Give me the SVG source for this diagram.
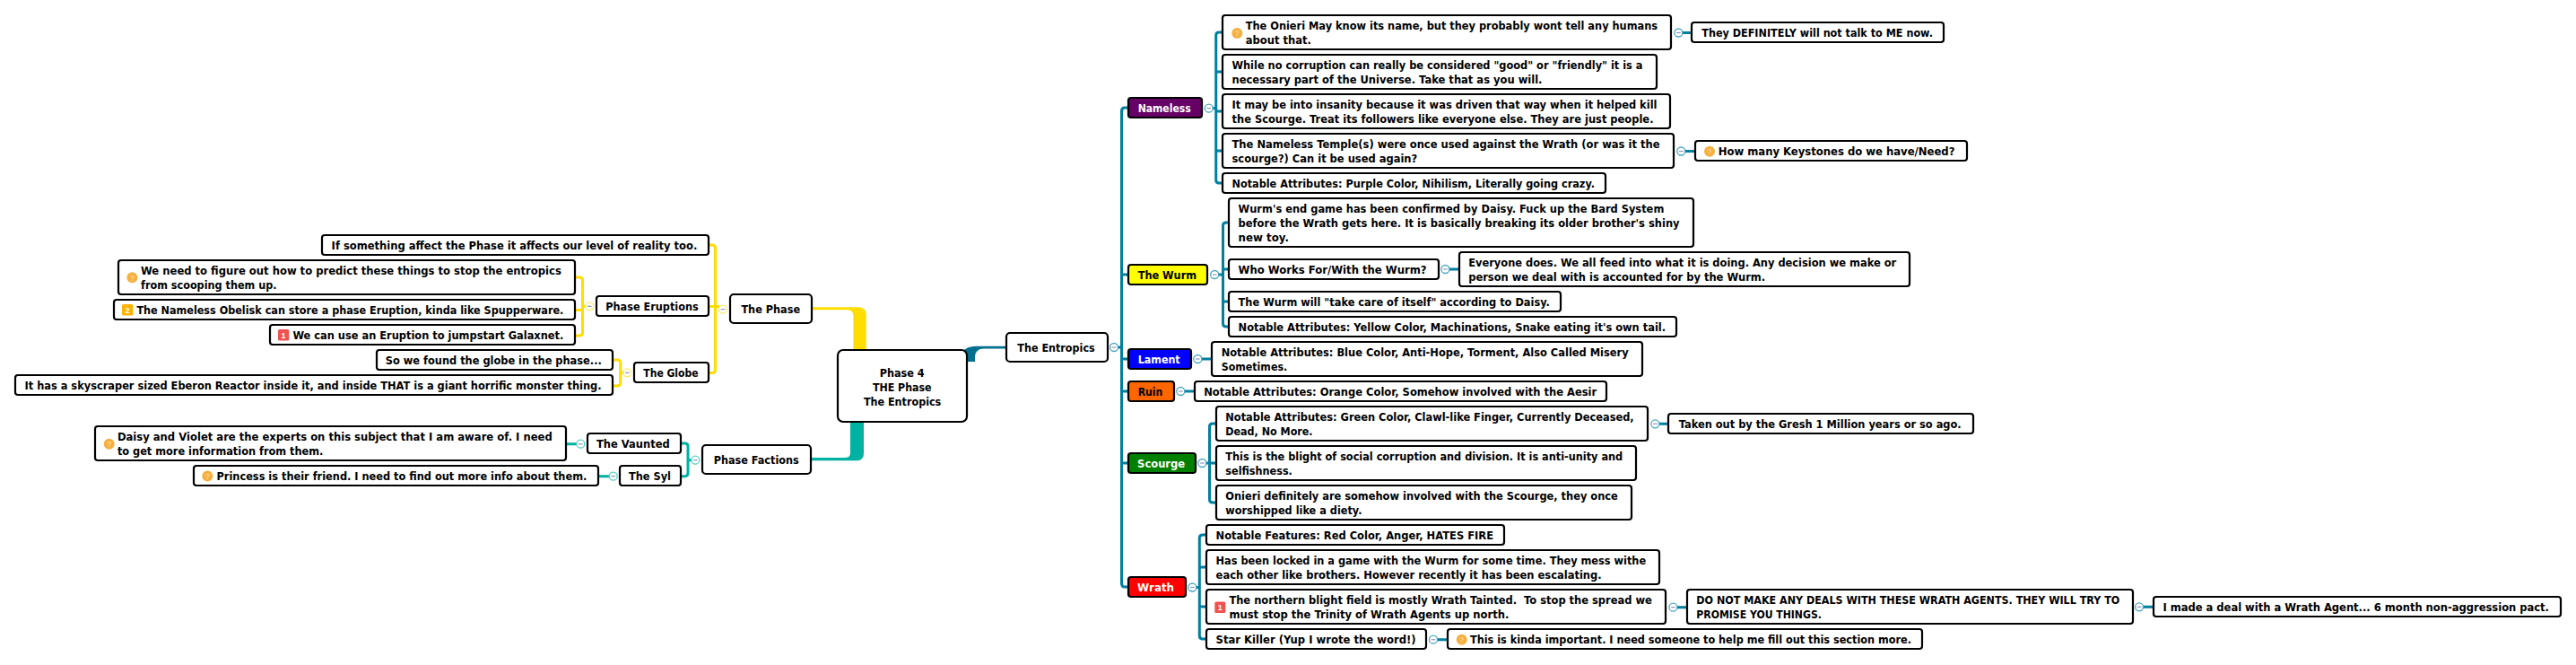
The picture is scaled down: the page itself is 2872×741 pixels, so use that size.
<svg xmlns="http://www.w3.org/2000/svg" width="2872" height="741" viewBox="0 0 2872 741">
<style>
.n rect{fill:#fff;stroke:#000;stroke-width:2.2}
text{font-family:"DejaVu Sans","Noto Sans","Liberation Sans",sans-serif;font-weight:700;font-size:13px;fill:#000;white-space:pre}
.w{fill:#fff}
.l{fill:none;stroke-width:3}
.b{stroke:#007f9f}.y{stroke:#ffdd00}.t{stroke:#00b2a2}
.f{stroke:none}
.ci{fill:#f5b041}
.ic{font-size:9px;fill:#fff;text-anchor:middle;font-family:"Liberation Sans",sans-serif}
.q{fill:#fbd38d}
.c circle{fill:#fff;stroke-width:1.3}
.c path{stroke:#8e96b8;stroke-width:1.2}
</style>
<defs>
<g id="cb" class="c"><circle r="4.5" stroke="#4da6c0"/><path d="M-2.3 0H2.3"/></g>
<g id="cy" class="c"><circle r="4.5" stroke="#ffe766"/><path d="M-2.3 0H2.3"/></g>
<g id="ct" class="c"><circle r="4.5" stroke="#55d0c4"/><path d="M-2.3 0H2.3"/></g>
</defs>
<g id="connectors">
<path class="f" fill="#ffdd00" d="M906 342.3H957Q965.7 342.3 965.7 351V390H951.4V352Q951.4 345.3 945 345.3H906Z"/>
<path class="f" fill="#00b2a2" d="M948 470V505Q948 510 942 510H905V513.3H955Q963 513.3 963 505V470Z"/>
<path class="f" fill="#006f8f" d="M1121 385.7H1088Q1078 385.7 1073 392L1078 403H1087V398Q1087 388.5 1097 388.5H1121Z"/>
<path class="l y" d="M791 273H794Q797.5 273 797.5 276.5V412Q797.5 415.5 794 415.5H791M791 341.5H802"/>
<path class="l y" d="M642 309H646Q649.5 309 649.5 312.5V370.5Q649.5 374 646 374H642M642 345.5H649.5M649.5 341.3H653"/>
<path class="l y" d="M684 401H688Q691.7 401 691.7 404.5V426.5Q691.7 430 688 430H684M691.7 415.3H695"/>
<path class="l t" d="M760 494H763.5Q767 494 767 497.5V527Q767 530.7 763.5 530.7H760M767 512.7H771"/>
<path class="l t" d="M632 494.7H643M668 530.7H680"/>
<path class="l b" d="M1257 120H1254Q1250.5 120 1250.5 124V650Q1250.5 654 1254 654H1257M1250.5 306H1257M1250.5 400H1257M1250.5 436H1257M1250.5 516H1257M1246 387H1250.5"/>
<path class="l b" d="M1362 36H1359Q1355.7 36 1355.7 39.5V200.5Q1355.7 204 1359 204H1362M1355.7 80H1362M1355.7 124H1362M1355.7 168H1362M1352 120.5H1355.7"/>
<path class="l b" d="M1369 248H1367Q1363.5 248 1363.5 251.5V360.5Q1363.5 364 1367 364H1369M1363.5 300H1369M1363.5 336H1369M1358 306H1363.5"/>
<path class="l b" d="M1355 472H1352Q1348.5 472 1348.5 475.5V556.5Q1348.5 560 1352 560H1355M1344 516H1355"/>
<path class="l b" d="M1344 596H1341Q1337.3 596 1337.3 599.5V708.5Q1337.3 712 1341 712H1344M1337.3 632H1344M1337.3 676H1344M1333 654.5H1337.3"/>
<path class="l b" d="M1875 36.5H1885M1878 168.5H1889M1615 300H1626M1339 400H1350M1320 436H1331M1849 472.3H1860M1869 676.7H1880M2389 676.3H2400M1602 712.7H1613"/>
<use href="#cy" x="806" y="344.7"/><use href="#cy" x="657.3" y="341.3"/><use href="#cy" x="699.3" y="415.3"/>
<use href="#ct" x="775.3" y="512.7"/><use href="#ct" x="647.3" y="494.7"/><use href="#ct" x="683.7" y="530.7"/>
<use href="#cb" x="1242" y="387"/><use href="#cb" x="1347.7" y="120.7"/><use href="#cb" x="1871.3" y="36.5"/><use href="#cb" x="1874.3" y="168.5"/>
<use href="#cb" x="1354.2" y="306"/><use href="#cb" x="1611.4" y="300"/><use href="#cb" x="1335.3" y="400"/><use href="#cb" x="1316.3" y="436"/>
<use href="#cb" x="1340.4" y="516"/><use href="#cb" x="1845.4" y="472.3"/><use href="#cb" x="1329.3" y="654.5"/><use href="#cb" x="1865.4" y="676.7"/><use href="#cb" x="2385" y="676.3"/><use href="#cb" x="1598" y="712.7"/>
</g>
<g id="root" class="n"><rect x="934" y="390" width="144" height="80" rx="6"/><text x="980.7" y="420" textLength="50" lengthAdjust="spacingAndGlyphs">Phase 4</text><text x="972.9" y="436" textLength="65.7" lengthAdjust="spacingAndGlyphs">THE Phase</text><text x="962.9" y="452" textLength="86.4" lengthAdjust="spacingAndGlyphs">The Entropics</text></g>
<g id="the-phase" class="n"><rect x="814" y="328" width="91" height="32" rx="4"/><text x="826.4" y="349" textLength="65.7" lengthAdjust="spacingAndGlyphs">The Phase</text></g>
<g id="phase-factions" class="n"><rect x="783" y="496" width="121" height="32" rx="4"/><text x="795.7" y="517" textLength="95" lengthAdjust="spacingAndGlyphs">Phase Factions</text></g>
<g id="the-entropics" class="n"><rect x="1122" y="371" width="113" height="32" rx="4"/><text x="1134.3" y="392" textLength="86.4" lengthAdjust="spacingAndGlyphs">The Entropics</text></g>
<g id="affect" class="n"><rect x="359" y="262" width="431" height="22" rx="3"/><text x="369.6" y="278" textLength="407.7" lengthAdjust="spacingAndGlyphs">If something affect the Phase it affects our level of reality too.</text></g>
<g id="phase-eruptions" class="n"><rect x="665" y="330" width="125" height="22" rx="3"/><text x="675.3" y="346" textLength="103.4" lengthAdjust="spacingAndGlyphs">Phase Eruptions</text></g>
<g id="the-globe" class="n"><rect x="707" y="404" width="83" height="22" rx="3"/><text x="717.3" y="420" textLength="61.3" lengthAdjust="spacingAndGlyphs">The Globe</text></g>
<g id="predict" class="n"><rect x="132" y="290" width="509" height="38" rx="3"/><circle class="ci" cx="147.4" cy="309.3" r="6"/><text class="ic q" x="147.4" y="312.5">?</text><text x="157" y="306" textLength="468.8" lengthAdjust="spacingAndGlyphs">We need to figure out how to predict these things to stop the entropics</text><text x="157" y="322" textLength="151.5" lengthAdjust="spacingAndGlyphs">from scooping them up.</text></g>
<g id="obelisk" class="n"><rect x="127" y="334" width="514" height="22" rx="3"/><rect style="fill:#ffb300;stroke:none" x="136" y="339" width="12.3" height="12.5" rx="1.5"/><text class="ic" x="142.1" y="348.5">2</text><text x="152.4" y="350" textLength="476" lengthAdjust="spacingAndGlyphs">The Nameless Obelisk can store a phase Eruption, kinda like Spupperware.</text></g>
<g id="jumpstart" class="n"><rect x="301" y="362" width="340" height="22" rx="3"/><rect style="fill:#ef5350;stroke:none" x="310" y="367" width="12.3" height="12.5" rx="1.5"/><text class="ic" x="316.1" y="376.5">1</text><text x="326.4" y="378" textLength="302" lengthAdjust="spacingAndGlyphs">We can use an Eruption to jumpstart Galaxnet.</text></g>
<g id="globe-found" class="n"><rect x="420" y="390" width="263" height="22" rx="3"/><text x="429.8" y="406" textLength="241" lengthAdjust="spacingAndGlyphs">So we found the globe in the phase...</text></g>
<g id="reactor" class="n"><rect x="17" y="418" width="666" height="22" rx="3"/><text x="27.5" y="434" textLength="643" lengthAdjust="spacingAndGlyphs">It has a skyscraper sized Eberon Reactor inside it, and inside THAT is a giant horrific monster thing.</text></g>
<g id="the-vaunted" class="n"><rect x="655" y="483" width="104" height="22" rx="3"/><text x="665" y="499" textLength="81.7" lengthAdjust="spacingAndGlyphs">The Vaunted</text></g>
<g id="the-syl" class="n"><rect x="691" y="519" width="68" height="22" rx="3"/><text x="701" y="535" textLength="47" lengthAdjust="spacingAndGlyphs">The Syl</text></g>
<g id="daisy" class="n"><rect x="106" y="475" width="525" height="38" rx="3"/><circle class="ci" cx="121.7" cy="494.7" r="6"/><text class="ic q" x="121.7" y="498">?</text><text x="130.9" y="491" textLength="484.8" lengthAdjust="spacingAndGlyphs">Daisy and Violet are the experts on this subject that I am aware of. I need</text><text x="130.9" y="507" textLength="229.5" lengthAdjust="spacingAndGlyphs">to get more information from them.</text></g>
<g id="princess" class="n"><rect x="216" y="519" width="451" height="22" rx="3"/><circle class="ci" cx="231.3" cy="530.5" r="6"/><text class="ic q" x="231.3" y="533.7">?</text><text x="241.5" y="535" textLength="412.8" lengthAdjust="spacingAndGlyphs">Princess is their friend. I need to find out more info about them.</text></g>
<g id="nameless" class="n"><rect style="fill:#660066" x="1258" y="109" width="82" height="22" rx="3"/><text class="w" x="1268.7" y="125" textLength="59" lengthAdjust="spacingAndGlyphs">Nameless</text></g>
<g id="wurm" class="n"><rect style="fill:#ffff00" x="1258" y="295" width="88" height="22" rx="3"/><text x="1268.7" y="311" textLength="65.4" lengthAdjust="spacingAndGlyphs">The Wurm</text></g>
<g id="lament" class="n"><rect style="fill:#0000ff" x="1258" y="389" width="70" height="22" rx="3"/><text class="w" x="1268.7" y="405" textLength="47" lengthAdjust="spacingAndGlyphs">Lament</text></g>
<g id="ruin" class="n"><rect style="fill:#ff6600" x="1258" y="425" width="51" height="22" rx="3"/><text x="1268.7" y="441" textLength="27.6" lengthAdjust="spacingAndGlyphs">Ruin</text></g>
<g id="scourge" class="n"><rect style="fill:#008000" x="1258" y="505" width="75" height="22" rx="3"/><text class="w" x="1268.1" y="521" textLength="53" lengthAdjust="spacingAndGlyphs">Scourge</text></g>
<g id="wrath" class="n"><rect style="fill:#ff0000" x="1258" y="643" width="64" height="22" rx="3"/><text class="w" x="1268.1" y="659" textLength="41" lengthAdjust="spacingAndGlyphs">Wrath</text></g>
<g id="onieri" class="n"><rect x="1363" y="17" width="500" height="38" rx="3"/><circle class="ci" cx="1379.3" cy="37" r="6"/><text class="ic q" x="1379.3" y="40.2">?</text><text x="1388.7" y="33" textLength="459.4" lengthAdjust="spacingAndGlyphs">The Onieri May know its name, but they probably wont tell any humans</text><text x="1388.7" y="49" textLength="73.2" lengthAdjust="spacingAndGlyphs">about that.</text></g>
<g id="definitely" class="n"><rect x="1886" y="25" width="281" height="22" rx="3"/><text x="1897.3" y="41" textLength="257.7" lengthAdjust="spacingAndGlyphs">They DEFINITELY will not talk to ME now.</text></g>
<g id="corruption" class="n"><rect x="1363" y="61" width="484" height="38" rx="3"/><text x="1373.5" y="77" textLength="458" lengthAdjust="spacingAndGlyphs">While no corruption can really be considered "good" or "friendly" it is a</text><text x="1373.5" y="93" textLength="346" lengthAdjust="spacingAndGlyphs">necessary part of the Universe. Take that as you will.</text></g>
<g id="insanity" class="n"><rect x="1363" y="105" width="499" height="38" rx="3"/><text x="1373.5" y="121" textLength="474" lengthAdjust="spacingAndGlyphs">It may be into insanity because it was driven that way when it helped kill</text><text x="1373.5" y="137" textLength="470" lengthAdjust="spacingAndGlyphs">the Scourge. Treat its followers like everyone else. They are just people.</text></g>
<g id="temple" class="n"><rect x="1363" y="149" width="503" height="38" rx="3"/><text x="1373.5" y="165" textLength="477" lengthAdjust="spacingAndGlyphs">The Nameless Temple(s) were once used against the Wrath (or was it the</text><text x="1373.5" y="181" textLength="206.7" lengthAdjust="spacingAndGlyphs">scourge?) Can it be used again?</text></g>
<g id="keystones" class="n"><rect x="1890" y="157" width="303" height="22" rx="3"/><circle class="ci" cx="1906" cy="168.7" r="6"/><text class="ic q" x="1906" y="172">?</text><text x="1915.7" y="173" textLength="263.7" lengthAdjust="spacingAndGlyphs">How many Keystones do we have/Need?</text></g>
<g id="purple" class="n"><rect x="1363" y="193" width="427" height="22" rx="3"/><text x="1373.5" y="209" textLength="404.5" lengthAdjust="spacingAndGlyphs">Notable Attributes: Purple Color, Nihilism, Literally going crazy.</text></g>
<g id="endgame" class="n"><rect x="1370" y="221" width="518" height="54" rx="3"/><text x="1380.6" y="237" textLength="474.7" lengthAdjust="spacingAndGlyphs">Wurm's end game has been confirmed by Daisy. Fuck up the Bard System</text><text x="1380.6" y="253" textLength="492" lengthAdjust="spacingAndGlyphs">before the Wrath gets here. It is basically breaking its older brother's shiny</text><text x="1380.6" y="269" textLength="56.3" lengthAdjust="spacingAndGlyphs">new toy.</text></g>
<g id="who-works" class="n"><rect x="1370" y="289" width="234" height="22" rx="3"/><text x="1380.6" y="305" textLength="210" lengthAdjust="spacingAndGlyphs">Who Works For/With the Wurm?</text></g>
<g id="everyone" class="n"><rect x="1627" y="281" width="502" height="38" rx="3"/><text x="1637.2" y="297" textLength="477" lengthAdjust="spacingAndGlyphs">Everyone does. We all feed into what it is doing. Any decision we make or</text><text x="1637.2" y="313" textLength="331" lengthAdjust="spacingAndGlyphs">person we deal with is accounted for by the Wurm.</text></g>
<g id="take-care" class="n"><rect x="1370" y="325" width="370" height="22" rx="3"/><text x="1380.6" y="341" textLength="347.3" lengthAdjust="spacingAndGlyphs">The Wurm will "take care of itself" according to Daisy.</text></g>
<g id="yellow" class="n"><rect x="1370" y="353" width="499" height="22" rx="3"/><text x="1380.6" y="369" textLength="476.5" lengthAdjust="spacingAndGlyphs">Notable Attributes: Yellow Color, Machinations, Snake eating it's own tail.</text></g>
<g id="blue" class="n"><rect x="1351" y="381" width="480" height="38" rx="3"/><text x="1361.7" y="397" textLength="454" lengthAdjust="spacingAndGlyphs">Notable Attributes: Blue Color, Anti-Hope, Torment, Also Called Misery</text><text x="1361.7" y="413" textLength="73.5" lengthAdjust="spacingAndGlyphs">Sometimes.</text></g>
<g id="orange" class="n"><rect x="1332" y="425" width="459" height="22" rx="3"/><text x="1342.2" y="441" textLength="438" lengthAdjust="spacingAndGlyphs">Notable Attributes: Orange Color, Somehow involved with the Aesir</text></g>
<g id="green" class="n"><rect x="1356" y="453" width="481" height="38" rx="3"/><text x="1366.3" y="469" textLength="455.4" lengthAdjust="spacingAndGlyphs">Notable Attributes: Green Color, Clawl-like Finger, Currently Deceased,</text><text x="1366.3" y="485" textLength="97.3" lengthAdjust="spacingAndGlyphs">Dead, No More.</text></g>
<g id="gresh" class="n"><rect x="1860" y="461" width="340" height="22" rx="3"/><text x="1871.7" y="477" textLength="315" lengthAdjust="spacingAndGlyphs">Taken out by the Gresh 1 Million years or so ago.</text></g>
<g id="blight" class="n"><rect x="1356" y="497" width="468" height="38" rx="3"/><text x="1366.3" y="513" textLength="442.9" lengthAdjust="spacingAndGlyphs">This is the blight of social corruption and division. It is anti-unity and</text><text x="1366.3" y="529" textLength="74.6" lengthAdjust="spacingAndGlyphs">selfishness.</text></g>
<g id="worshipped" class="n"><rect x="1356" y="541" width="463" height="38" rx="3"/><text x="1366.3" y="557" textLength="437.5" lengthAdjust="spacingAndGlyphs">Onieri definitely are somehow involved with the Scourge, they once</text><text x="1366.3" y="573" textLength="152.2" lengthAdjust="spacingAndGlyphs">worshipped like a diety.</text></g>
<g id="red" class="n"><rect x="1345" y="585" width="332" height="22" rx="3"/><text x="1355.6" y="601" textLength="309.4" lengthAdjust="spacingAndGlyphs">Notable Features: Red Color, Anger, HATES FIRE</text></g>
<g id="locked" class="n"><rect x="1345" y="613" width="505" height="38" rx="3"/><text x="1355.6" y="629" textLength="479.5" lengthAdjust="spacingAndGlyphs">Has been locked in a game with the Wurm for some time. They mess withe</text><text x="1355.6" y="645" textLength="430" lengthAdjust="spacingAndGlyphs">each other like brothers. However recently it has been escalating.</text></g>
<g id="northern" class="n"><rect x="1345" y="657" width="512" height="38" rx="3"/><rect style="fill:#ef5350;stroke:none" x="1354.3" y="670.5" width="12" height="12.5" rx="1.5"/><text class="ic" x="1360.3" y="680">1</text><text x="1370.4" y="673" textLength="471.4" lengthAdjust="spacingAndGlyphs">The northern blight field is mostly Wrath Tainted.  To stop the spread we</text><text x="1370.4" y="689" textLength="312" lengthAdjust="spacingAndGlyphs">must stop the Trinity of Wrath Agents up north.</text></g>
<g id="no-deals" class="n"><rect x="1881" y="657" width="497" height="38" rx="3"/><text x="1891.3" y="673" textLength="472" lengthAdjust="spacingAndGlyphs">DO NOT MAKE ANY DEALS WITH THESE WRATH AGENTS. THEY WILL TRY TO</text><text x="1891.3" y="689" textLength="139.6" lengthAdjust="spacingAndGlyphs">PROMISE YOU THINGS.</text></g>
<g id="pact" class="n"><rect x="2401" y="665" width="454" height="22" rx="3"/><text x="2411.4" y="681" textLength="430.6" lengthAdjust="spacingAndGlyphs">I made a deal with a Wrath Agent... 6 month non-aggression pact.</text></g>
<g id="star-killer" class="n"><rect x="1345" y="701" width="245" height="22" rx="3"/><text x="1355.6" y="717" textLength="223" lengthAdjust="spacingAndGlyphs">Star Killer (Yup I wrote the word!)</text></g>
<g id="kinda" class="n"><rect x="1614" y="701" width="529" height="22" rx="3"/><circle class="ci" cx="1629.7" cy="712.7" r="6"/><text class="ic q" x="1629.7" y="716">?</text><text x="1639" y="717" textLength="492" lengthAdjust="spacingAndGlyphs">This is kinda important. I need someone to help me fill out this section more.</text></g>
</svg>
